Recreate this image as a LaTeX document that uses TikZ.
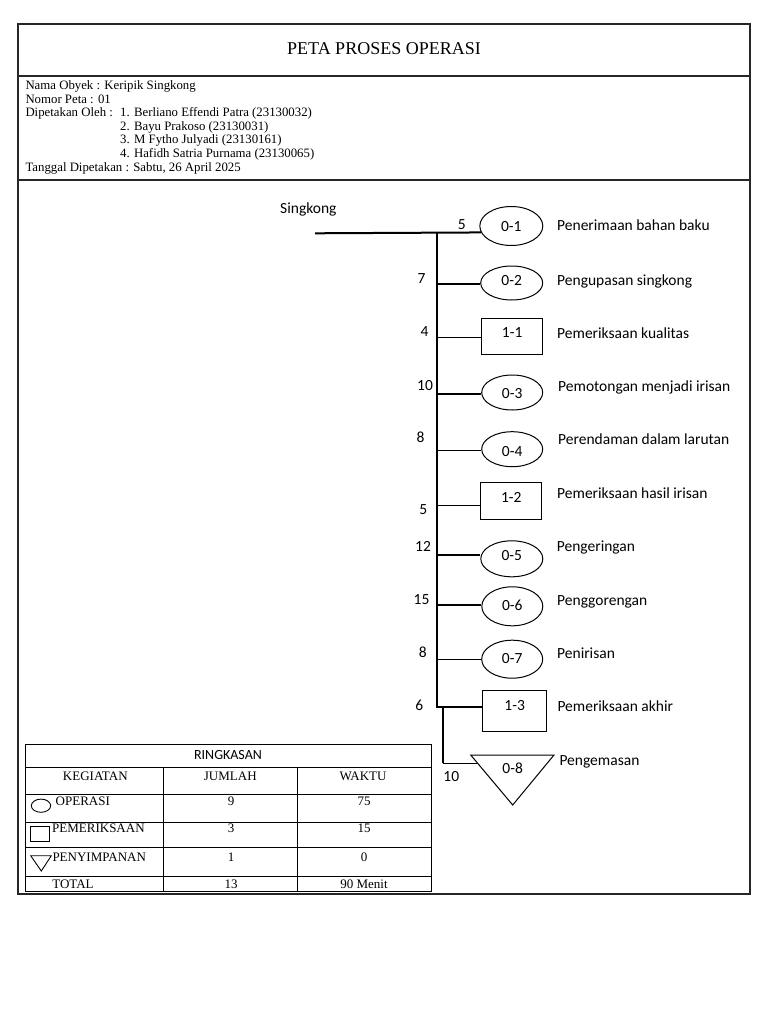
\documentclass[tikz,border=0pt]{standalone}
\usepackage{fontspec}
\setmainfont{Liberation Serif}
\newfontfamily\calfont{Carlito}
\usetikzlibrary{shapes.geometric}
\newcommand\shft[2]{\raisebox{#1}[0pt][0pt]{#2}}
\begin{document}
\begin{tikzpicture}[x=1pt,y=-1pt,
  frame/.style={draw=black!85, line width=1.1pt},
  tline/.style={draw=black, line width=0.9pt},
  opnode/.style={ellipse, draw, line width=1pt, inner sep=0pt, font=\calfont\fontsize{15.5}{17}\selectfont},
  insnode/.style={rectangle, draw, line width=1pt, inner sep=0pt, font=\calfont\fontsize{15.5}{17}\selectfont},
  mainln/.style={line width=2pt},
  branch/.style={line width=1.5pt},
  num/.style={anchor=base, inner sep=0pt, font=\calfont\fontsize{15.5}{17}\selectfont},
  desc/.style={anchor=base west, inner sep=0pt, font=\calfont\fontsize{15.5}{17}\selectfont},
  info/.style={anchor=base west, inner sep=0pt, font=\fontsize{12.8}{14}\selectfont},
  cell/.style={anchor=base, inner sep=0pt, font=\fontsize{13}{15}\selectfont},
  cellw/.style={anchor=base west, inner sep=0pt, font=\fontsize{13}{15}\selectfont}]
\useasboundingbox (0,0) rectangle (768,1024);
\fill[white] (0,0) rectangle (768,1024);
% frame
\draw[frame] (18,24) rectangle (750,894);
\draw[frame] (18,76) -- (750,76);
\draw[frame] (18,180) -- (750,180);
% title
\node[anchor=base, inner sep=0pt, font=\fontsize{18}{20}\selectfont] (title) at (384,55) {PETA PROSES OPERASI};
% info
\node[info] (i1l) at (25.3,89.3) {Nama Obyek : Keripik Singkong};
\node[info] (i2l) at (25.3,103.3) {Nomor Peta : 01};
\node[info] (i3l) at (25.3,116.7) {Dipetakan Oleh :};
\node[info] (n1) at (120,116.7) {1. Berliano Effendi Patra (23130032)};
\node[info] (n2) at (120,130.7) {2. Bayu Prakoso (23130031)};
\node[info] (n3) at (120,144) {3. M Fytho Julyadi (23130161)};
\node[info] (n4) at (120,157.3) {4. Hafidh Satria Purnama (23130065)};
\node[info] (i4l) at (25.3,171.7) {Tanggal Dipetakan : Sabtu, 26 April 2025};
% chart shapes
\node[opnode, minimum width=63, minimum height=39] (o1) at (511.3,226) {\shft{-5.7pt}{0-1}};
\node[opnode, minimum width=62, minimum height=34] (o2) at (511.7,283) {\shft{-2.5pt}{0-2}};
\node[insnode, minimum width=61, minimum height=36] (r1) at (512.2,336.3) {\shft{-1.2pt}{1-1}};
\node[opnode, minimum width=61, minimum height=35] (o3) at (512.2,392.5) {\shft{-6pt}{0-3}};
\node[opnode, minimum width=61, minimum height=35] (o4) at (512.2,449.2) {\shft{-7.3pt}{0-4}};
\node[insnode, minimum width=61, minimum height=37] (r2) at (511.3,501.3) {\shft{-1.2pt}{1-2}};
\node[opnode, minimum width=62, minimum height=36] (o5) at (511.8,558.8) {\shft{-1.7pt}{0-5}};
\node[opnode, minimum width=61, minimum height=39] (o6) at (512.3,606.3) {\shft{-4.2pt}{0-6}};
\node[opnode, minimum width=61, minimum height=38] (o7) at (512.2,659.2) {\shft{-4.3pt}{0-7}};
\node[insnode, minimum width=64, minimum height=41] (r3) at (514.7,711.2) {\shft{1.2pt}{1-3}};
% triangle
\coordinate (tl) at (470.7,755);
\coordinate (tr) at (554,755);
\coordinate (tb) at (512.7,805);
\draw[line width=1pt, line join=miter] (tl) -- (tr) -- (tb) -- cycle;
\node[num] (o8) at (512.7,773.5) {0-8};
\coordinate (tin) at (477.6,763.3);
% connectors
\node[desc] (sk) at (280,213.3) {Singkong};
\coordinate (s0) at (315,233.3);
\coordinate (mtop) at (437.3,233.3);
\coordinate (mbot) at (437.3,707);
\draw[mainln] (s0) -- (o1.192);
\draw[mainln] (mtop) -- (mbot);
\coordinate (j2) at (437.3,284);
\coordinate (j3) at (437.3,337.7);
\coordinate (j4) at (437.3,394);
\coordinate (j5) at (437.3,450.7);
\coordinate (j6) at (437.3,505.7);
\coordinate (j7) at (437.3,555);
\coordinate (j8) at (437.3,605);
\coordinate (j9) at (437.3,659.3);
\coordinate (j10) at (436.3,706.5);
\draw[branch] (j2) -- (j2 -| o2.west);
\draw[branch] (j3) -- (j3 -| r1.west);
\draw[branch] (j4) -- (j4 -| o3.west);
\draw[branch] (j5) -- (j5 -| o4.west);
\draw[branch] (j6) -- (j6 -| r2.west);
\draw[branch] (j7) -- (j7 -| o5.west);
\draw[branch] (j8) -- (j8 -| o6.west);
\draw[branch] (j9) -- (j9 -| o7.west);
\draw[mainln] (j10) -- (j10 -| r3.west);
\coordinate (k1) at (442.7,706.5);
\coordinate (k2) at (442.7,763.3);
\draw[mainln] (k1) -- (k2);
\draw[branch] (k2) -- (tin);
% numbers
\node[num] (t1) at (461.7,229.3) {5};
\node[num] (t2) at (421.5,283.5) {7};
\node[num] (t3) at (424.5,336.5) {4};
\node[num] (t4) at (425,390.5) {10};
\node[num] (t5) at (420.5,442.5) {8};
\node[num] (t6) at (423.3,514.5) {5};
\node[num] (t7) at (423,551.5) {12};
\node[num] (t8) at (421.5,604.5) {15};
\node[num] (t9) at (422.7,657.5) {8};
\node[num] (t10) at (419.3,710.7) {6};
\node[num] (t11) at (451.3,781.5) {10};
% descriptions
\node[desc] (d1) at (557,231) {Penerimaan bahan baku};
\node[desc] (d2) at (557,285) {Pengupasan singkong};
\node[desc] (d3) at (557,338) {Pemeriksaan kualitas};
\node[desc] (d4) at (558,391) {Pemotongan menjadi irisan};
\node[desc] (d5) at (558,444) {Perendaman dalam larutan};
\node[desc] (d6) at (557,498) {Pemeriksaan hasil irisan};
\node[desc] (d7) at (556.7,551) {Pengeringan};
\node[desc] (d8) at (557,605) {Penggorengan};
\node[desc] (d9) at (557,658) {Penirisan};
\node[desc] (d10) at (557.3,711) {Pemeriksaan akhir};
\node[desc] (d11) at (559.3,765) {Pengemasan};
% table
\draw[tline] (25.3,744.3) rectangle (431.3,891);
\foreach \yy in {767.7,794.3,822.3,847.7,876.7} \draw[tline] (25.3,\yy) -- (431.3,\yy);
\draw[tline] (163.7,767.7) -- (163.7,891);
\draw[tline] (297.3,767.7) -- (297.3,891);
\node[anchor=base, inner sep=0pt, font=\calfont\fontsize{14}{16}\selectfont] (rk) at (228,759) {RINGKASAN};
\node[cell] (h1) at (95.3,780) {KEGIATAN};
\node[cell] (h2) at (230.3,780) {JUMLAH};
\node[cell] (h3) at (363,780) {WAKTU};
\draw[line width=0.9pt] (41,805.7) ellipse [x radius=9.7, y radius=6.6];
\node[cellw] (c1) at (55.5,805.7) {OPERASI};
\node[cell] (c1a) at (231,805.7) {9};
\node[cell] (c1b) at (364,805.7) {75};
\draw[line width=0.9pt] (30.7,826.7) rectangle (49.7,841);
\node[cellw] (c2) at (52,832.3) {PEMERIKSAAN};
\node[cell] (c2a) at (231,832.3) {3};
\node[cell] (c2b) at (364,832.3) {15};
\draw[line width=0.9pt] (30.7,855.7) -- (51.3,855.7) -- (41.3,871) -- cycle;
\node[cellw] (c3) at (52.3,861.7) {PENYIMPANAN};
\node[cell] (c3a) at (231,861.7) {1};
\node[cell] (c3b) at (364,861.7) {0};
\node[cell] (c4) at (73,888.3) {TOTAL};
\node[cell] (c4a) at (231,888.3) {13};
\node[cell] (c4b) at (364,888.3) {90 Menit};
\end{tikzpicture}
\end{document}
